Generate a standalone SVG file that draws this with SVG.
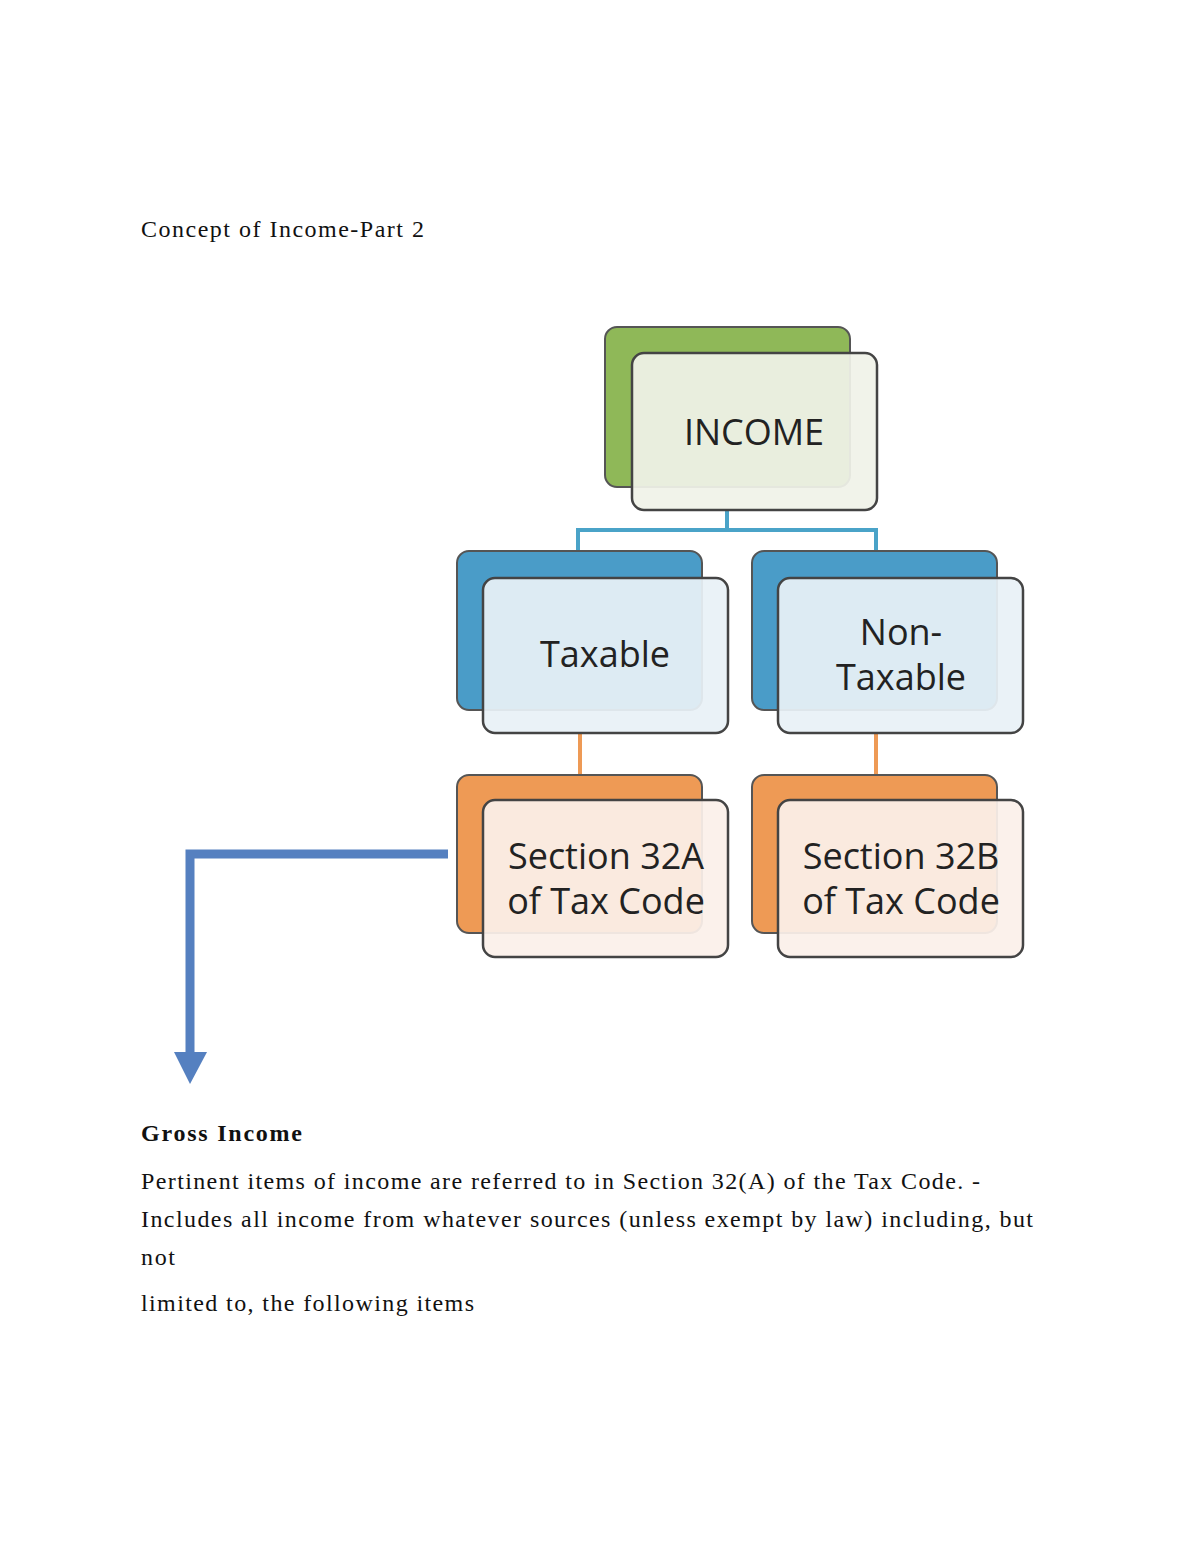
<svg xmlns="http://www.w3.org/2000/svg" width="1200" height="1553" viewBox="0 0 1200 1553">
<style>
.t{font-family:"Liberation Serif",serif;font-size:24px;fill:#111}
.n{font-family:"Open Sans","DejaVu Sans",sans-serif;font-size:36px;fill:#222;text-anchor:middle}
.front{stroke:#444;stroke-width:2.5;fill-opacity:0.93}
</style>
<rect width="1200" height="1553" fill="#fff"/>
<text class="t" x="141" y="237" textLength="283" lengthAdjust="spacing">Concept of Income-Part 2</text>
<g id="connectors" fill="none">
<polyline points="727,510 727,530 578,530 578,552" stroke="#4aa3c8" stroke-width="4"/>
<polyline points="727,530 876,530 876,552" stroke="#4aa3c8" stroke-width="4"/>
<line x1="580" y1="733" x2="580" y2="776" stroke="#ee9a55" stroke-width="4"/>
<line x1="876" y1="733" x2="876" y2="776" stroke="#ee9a55" stroke-width="4"/>
<polyline points="448,854 190,854 190,1058" stroke="#5580c0" stroke-width="9"/>
<polygon points="174,1052 207,1052 190,1084" fill="#5580c0"/>
</g>
<g id="income">
<rect x="605" y="327" width="245" height="160" rx="12" fill="#8fb858" stroke="#555" stroke-width="2"/>
<rect class="front" x="632" y="353" width="245" height="157" rx="12" fill="#f0f2e8"/>
<text class="n" x="754" y="445">INCOME</text>
</g>
<g id="taxable">
<rect x="457" y="551" width="245" height="159" rx="12" fill="#4a9cc8" stroke="#555" stroke-width="2"/>
<rect class="front" x="483" y="578" width="245" height="155" rx="12" fill="#e8f1f6"/>
<text class="n" x="605" y="667">Taxable</text>
</g>
<g id="nontaxable">
<rect x="752" y="551" width="245" height="159" rx="12" fill="#4a9cc8" stroke="#555" stroke-width="2"/>
<rect class="front" x="778" y="578" width="245" height="155" rx="12" fill="#e8f1f6"/>
<text class="n" x="901" y="645">Non-</text>
<text class="n" x="901" y="690">Taxable</text>
</g>
<g id="sec32a">
<rect x="457" y="775" width="245" height="158" rx="12" fill="#ee9a55" stroke="#555" stroke-width="2"/>
<rect class="front" x="483" y="800" width="245" height="157" rx="12" fill="#fbf0ea"/>
<text class="n" x="606" y="869">Section 32A</text>
<text class="n" x="606" y="914">of Tax Code</text>
</g>
<g id="sec32b">
<rect x="752" y="775" width="245" height="158" rx="12" fill="#ee9a55" stroke="#555" stroke-width="2"/>
<rect class="front" x="778" y="800" width="245" height="157" rx="12" fill="#fbf0ea"/>
<text class="n" x="901" y="869">Section 32B</text>
<text class="n" x="901" y="914">of Tax Code</text>
</g>
<text class="t" x="141" y="1141" font-weight="bold" textLength="161" lengthAdjust="spacing">Gross Income</text>
<text class="t" x="141" y="1189" textLength="839" lengthAdjust="spacing">Pertinent items of income are referred to in Section 32(A) of the Tax Code. -</text>
<text class="t" x="141" y="1227" textLength="892" lengthAdjust="spacing">Includes all income from whatever sources (unless exempt by law) including, but</text>
<text class="t" x="141" y="1265" textLength="34" lengthAdjust="spacing">not</text>
<text class="t" x="141" y="1311" textLength="333" lengthAdjust="spacing">limited to, the following items</text>
</svg>
